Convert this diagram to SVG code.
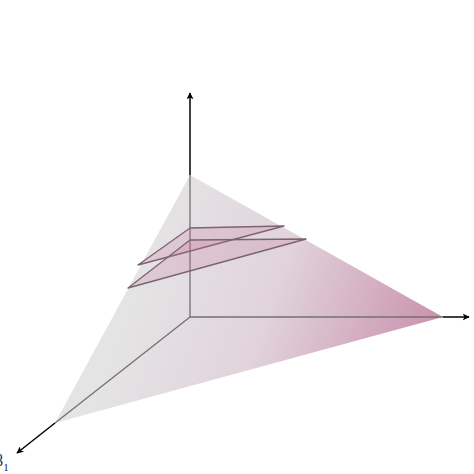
<svg xmlns="http://www.w3.org/2000/svg" width="474" height="474" viewBox="0 0 474 474">
<defs>
<linearGradient id="g" gradientUnits="userSpaceOnUse" x1="150" y1="230" x2="440" y2="330">
<stop offset="0" stop-color="#e5e4e5"/>
<stop offset="0.45" stop-color="#e1d3db"/>
<stop offset="1" stop-color="#ca90ad"/>
</linearGradient>
<marker id="ah" viewBox="0 0 10 10" refX="9" refY="5" markerWidth="7" markerHeight="7" orient="auto" markerUnits="userSpaceOnUse">
<path d="M0,0 L10,5 L0,10 L2.5,5 Z" fill="#000"/>
</marker>
<style>
.ax{stroke:#000;stroke-width:1.5;fill:none}
.inner{stroke:#737072;stroke-width:1.3;fill:none}
.lvl{fill:#c46f98;fill-opacity:0.22;stroke:#7a6470;stroke-width:1.3;stroke-linejoin:round}
.lbl{font-family:"Liberation Serif",serif;fill:#1e1e4e}
</style>
</defs>
<g id="simplex">
<polygon points="190,175 443,317 55,423" fill="url(#g)"/>
</g>
<g id="connectors">
<line class="inner" x1="190" y1="175" x2="190" y2="317"/>
<line class="inner" x1="190" y1="317" x2="443" y2="317"/>
<line class="inner" x1="190" y1="317" x2="55" y2="423"/>
<line class="ax" x1="190" y1="175" x2="190" y2="93" marker-end="url(#ah)"/>
<line class="ax" x1="443" y1="317" x2="469" y2="317" marker-end="url(#ah)"/>
<line class="ax" x1="55" y1="423" x2="17" y2="453" marker-end="url(#ah)"/>
</g>
<g id="level1">
<polygon class="lvl" points="190,228 284,226 138,265"/>
</g>
<g id="level2">
<polygon class="lvl" points="190,240 306,239 128,288"/>
</g>
<g id="label">
<text class="lbl" x="-5" y="466" font-size="16">β<tspan font-size="11" dy="5">1</tspan></text>
</g>
</svg>
